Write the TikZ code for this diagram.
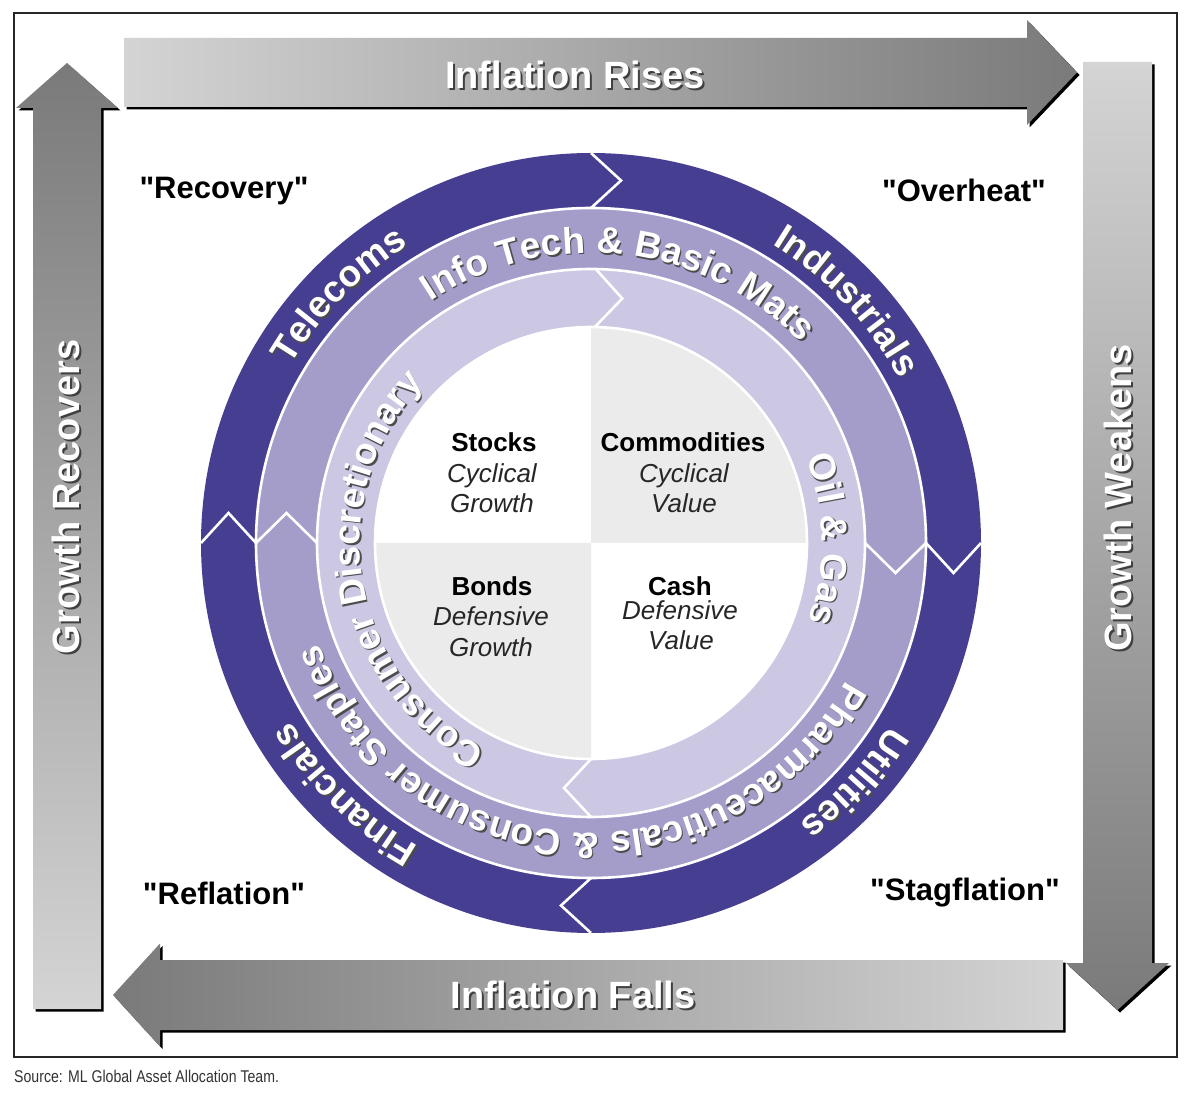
\documentclass[tikz,border=0pt]{standalone}
\usepackage{fontspec}
\setmainfont{Liberation Sans}[Ligatures=TeXOff]
\usetikzlibrary{calc,decorations.text}
\definecolor{ringA}{RGB}{70,63,145}
\definecolor{ringB}{RGB}{165,157,201}
\definecolor{ringC}{RGB}{204,199,226}
\definecolor{quadgray}{RGB}{235,235,235}
\definecolor{arrLight}{RGB}{212,212,212}
\definecolor{arrDark}{RGB}{122,122,122}
\newcommand\ringfont{\fontsize{37}{37}\selectfont\bfseries}
\newcommand\ringtext[4]{%
  \path[decorate,decoration={text along path,text align=center,text color=black!70,text={|\ringfont|#4}}]
    ($(C)+({#2+#3}:#1)+(1.5,-1.5)$) arc[start angle={#2+#3},end angle={#2-#3},radius=#1];
  \path[decorate,decoration={text along path,text align=center,text color=white,text={|\ringfont|#4}}]
    ($(C)+({#2+#3}:#1)$) arc[start angle={#2+#3},end angle={#2-#3},radius=#1];
}
\newcommand\chev[4]{%
  \draw[sepline] ($(C)+(#1:#3)$) -- ($(C)+(#1:{(#2+#3)/2})+({#1-90}:#4)$) -- ($(C)+(#1:#2)$);
}
\newcommand\garrow[2]{%
  \fill[black,xshift=2.5pt,yshift=-2.5pt] #2;
  \shade[#1] #2;
}
\begin{document}
\begin{tikzpicture}[x=1pt,y=1pt,
  sepline/.style={white,line width=2.6pt,line join=miter},
  arrowlabel/.style={font=\fontsize{38}{38}\selectfont\bfseries},
  phase/.style={font=\fontsize{31}{31}\selectfont\bfseries,text=black},
  qhead/.style={font=\fontsize{26}{26}\selectfont\bfseries,text=black,anchor=base},
  qsub/.style={font=\fontsize{26}{26}\selectfont\itshape,text=black!85,anchor=base}]
\useasboundingbox (0,0) rectangle (1200,1096);
\fill[white] (0,0) rectangle (1200,1096);
% frame
\draw[line width=1.3pt,black!85] (14,39) rectangle (1177,1083);
% big gray arrows
\garrow{left color=arrLight,right color=arrDark}{(124,989) -- (1027,989) -- (1027,971) -- (1077,1023.5) -- (1027,1076) -- (1027,1058) -- (124,1058) -- cycle}
\garrow{top color=arrLight,bottom color=arrDark}{(1083,1034) -- (1152,1034) -- (1152,133) -- (1169,133) -- (1117.5,86) -- (1066,133) -- (1083,133) -- cycle}
\garrow{left color=arrDark,right color=arrLight}{(1063,136) -- (160,136) -- (160,152.5) -- (113,101) -- (160,49.5) -- (160,66) -- (1063,66) -- cycle}
\garrow{top color=arrDark,bottom color=arrLight}{(33,87) -- (101,87) -- (101,988) -- (118,988) -- (67,1033) -- (16,988) -- (33,988) -- cycle}
% arrow labels
\node[arrowlabel,text=black!75] (tRiseS) at (577,1019) {Inflation Rises};
\node[arrowlabel,text=white] (tRise) at (575,1021) {Inflation Rises};
\node[arrowlabel,text=black!75] (tFallS) at (575,99) {Inflation Falls};
\node[arrowlabel,text=white] (tFall) at (573,101) {Inflation Falls};
\node[arrowlabel,text=black!75,rotate=90] (tRecS) at (68,597) {Growth Recovers};
\node[arrowlabel,text=white,rotate=90] (tRec) at (66,599) {Growth Recovers};
\node[arrowlabel,text=black!75,rotate=90] (tWeakS) at (1120,596) {Growth Weakens};
\node[arrowlabel,text=white,rotate=90] (tWeak) at (1118,598) {Growth Weakens};
% phase labels
\node[phase] (qRec) at (224,905) {"Recovery"};
\node[phase] (qOver) at (964,906) {"Overheat"};
\node[phase] (qRef) at (224,203) {"Reflation"};
\node[phase] (qStag) at (965,203) {"Stagflation"};
% clock
\coordinate (C) at (591,553);
\fill[ringA] (C) circle (390);
\fill[ringB] (C) circle (335);
\fill[ringC] (C) circle (274);
\fill[white] (C) circle (216);
\fill[quadgray] (C) -- ($(C)+(0:216)$) arc[start angle=0,end angle=90,radius=216] -- cycle;
\fill[quadgray] (C) -- ($(C)+(180:216)$) arc[start angle=180,end angle=270,radius=216] -- cycle;
\draw[sepline] (C) circle (335);
\draw[sepline] (C) circle (274);
\draw[sepline] (C) circle (216);
% chevrons
\chev{90}{335}{390}{30}
\chev{0}{335}{390}{30}
\chev{270}{335}{390}{30}
\chev{180}{335}{390}{30}
\chev{180}{274}{335}{30}
\chev{0}{274}{335}{30}
\chev{89}{216}{274}{27}
\chev{270}{216}{274}{27}
% ring texts
\ringtext{349}{135.5}{42}{Telecoms}
\ringtext{349}{43.4}{42}{Industrials}
\ringtext{349}{-42.4}{42}{Utilities}
\ringtext{349}{225.6}{42}{Financials}
\ringtext{290}{83.5}{80}{Info Tech {\&} Basic Mats}
\ringtext{290}{-94}{80}{Pharmaceuticals {\&} Consumer Staples}
\ringtext{231}{189.6}{75}{Consumer Discretionary}
\ringtext{231}{1}{60}{Oil {\&} Gas}
% quadrant labels
\node[qhead] (qa1) at (494,644) {Stocks};
\node[qsub] (qa2) at (492,613) {Cyclical};
\node[qsub] (qa3) at (492,583) {Growth};
\node[qhead] (qb1) at (683,644) {Commodities};
\node[qsub] (qb2) at (684,613) {Cyclical};
\node[qsub] (qb3) at (684,583) {Value};
\node[qhead] (qc1) at (492,500) {Bonds};
\node[qsub] (qc2) at (491,470) {Defensive};
\node[qsub] (qc3) at (491,439) {Growth};
\node[qhead] (qd1) at (680,500) {Cash};
\node[qsub] (qd2) at (680,476) {Defensive};
\node[qsub] (qd3) at (681,446) {Value};
% source
\node[anchor=west,inner sep=0pt,text=black!80,font=\fontsize{17}{17}\selectfont] (src) at (14,20) {\scalebox{0.83}[1]{Source: ML Global Asset Allocation Team.}};
\end{tikzpicture}
\end{document}
